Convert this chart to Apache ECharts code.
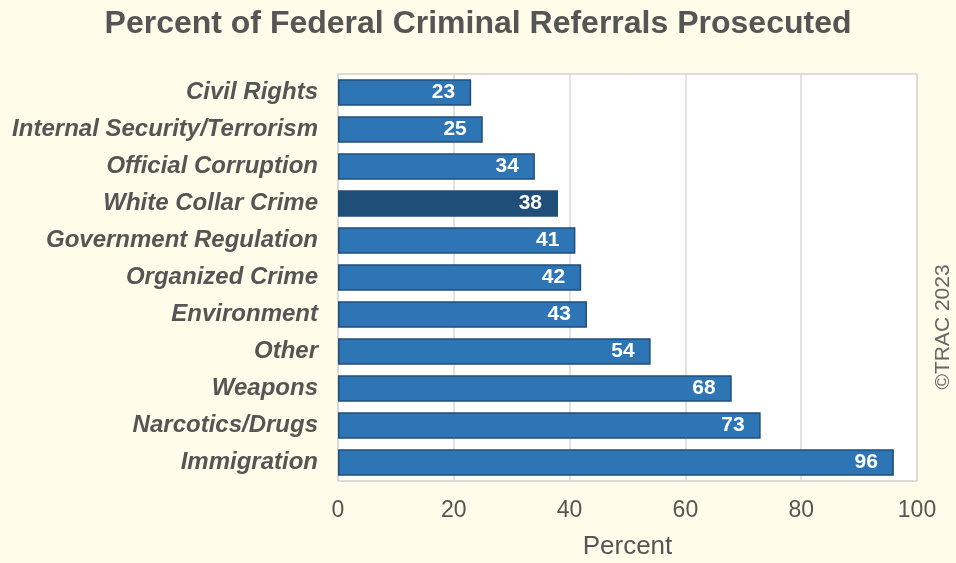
<!DOCTYPE html>
<html><head><meta charset="utf-8">
<script src="https://cdn.jsdelivr.net/npm/echarts@6/dist/echarts.min.js"></script>
<style>html,body{margin:0;padding:0;background:#FFFDE9;}#c{width:956px;height:563px;}</style>
</head><body><div id="c"></div>
<script>
const categories = ["Civil Rights","Internal Security/Terrorism","Official Corruption","White Collar Crime","Government Regulation","Organized Crime","Environment","Other","Weapons","Narcotics/Drugs","Immigration"];
const values = [23,25,34,38,41,42,43,54,68,73,96];
const highlight = "White Collar Crime";
const xTicks = [0,20,40,60,80,100];

const chart = echarts.init(document.getElementById('c'));
chart.setOption({
  backgroundColor: '#FFFDE9',
  animation: false,
  title: {text: 'Percent of Federal Criminal Referrals Prosecuted', left: 'center', top: 3,
    textStyle: {fontFamily: 'Liberation Sans', fontWeight: 'bold', fontSize: 32, color: '#555555'}},
  graphic: [{type: 'text', x: 943, y: 327, rotation: Math.PI/2,
    style: {text: '©TRAC 2023', fontFamily: 'Liberation Sans', fontSize: 21, fill: '#666666', align: 'center', verticalAlign: 'middle'}}],
  grid: {left: 338, right: 39, top: 74, bottom: 82, outerBoundsMode: 'none', containLabel: false,
    show: true, backgroundColor: '#ffffff', borderColor: '#bbbbbb', borderWidth: 1},
  xAxis: {type: 'value', min: 0, max: 100, interval: 20,
    name: 'Percent', nameLocation: 'middle', nameGap: 53,
    nameTextStyle: {fontFamily: 'Liberation Sans', fontSize: 26, color: '#555555'},
    axisLabel: {fontFamily: 'Liberation Sans', fontSize: 23, color: '#555555', margin: 18,
      formatter: v => xTicks.includes(v) ? String(v) : ''},
    axisLine: {show: false}, axisTick: {show: false},
    splitLine: {lineStyle: {color: '#d9d9d9', width: 1.5}}},
  yAxis: {type: 'category', data: categories, inverse: true,
    axisLabel: {fontFamily: 'Liberation Sans', fontSize: 24, fontWeight: 'bold', fontStyle: 'italic', color: '#555555', margin: 20},
    axisLine: {show: false}, axisTick: {show: false}},
  series: [{type: 'bar', barCategoryGap: '28%',
    data: values.map((v, i) => ({value: v, itemStyle: categories[i] === highlight ? {color: '#1F4E79'} : {}})),
    itemStyle: {color: '#2E75B6', borderColor: '#1F4E79', borderWidth: 1.5},
    label: {show: true, position: 'insideRight', distance: 16, color: '#ffffff', fontFamily: 'Liberation Sans', fontWeight: 'bold', fontSize: 21}}]
});
</script></body></html>
